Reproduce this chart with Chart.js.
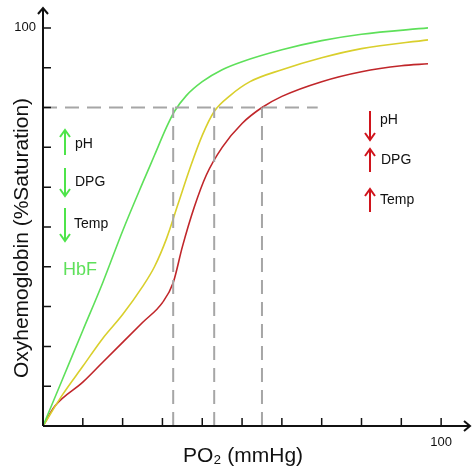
<!DOCTYPE html>
<html><head><meta charset="utf-8">
<script src="https://cdn.jsdelivr.net/npm/chart.js@4"></script>
<style>html,body{margin:0;padding:0;background:#fff}#w{width:474px;height:474px}</style>
</head><body><div id="w"><canvas id="c"></canvas></div>
<script>
const greenX=[0,5,10,15,20,25,28,31,33,36,40,45,50,60,70,80,96.7];
const greenY=[0,12,24,36,49,61,68,75,79,83,86.5,89.5,91.5,94.5,96.8,98.4,100];
const yellowX=[0,5,10,15,20,25,28,31,34,37,40,43,47,52,60,70,80,96.7];
const yellowY=[0,8,15,22,28,35,40,47,56,65,73,79,83,86.5,89.5,92.5,94.8,97];
const redX=[0,3,10,15,20,25,30,32.7,35,38,41,45,50,55,60,70,80,90,96.7];
const redY=[0,5,11,16,21,26,31,36,45,55,63,70,76,80,82.8,86.5,89,90.5,91];
const p50X=[32.7,43,55];
const refY=80, refXEnd=69;
const xTicks=[10,20,30,40,50,60,70,80,90,100];
const yTicks=[10,20,30,40,50,60,70,80,90,100];
const zip=(a,b)=>a.map((v,i)=>({x:v,y:b[i]}));
const dash={borderColor:'#a6a6a6',borderWidth:2,borderDash:[14,8],pointRadius:0,fill:false};
const ds=[
 Object.assign({data:[{x:0,y:refY},{x:refXEnd,y:refY}]},dash),
 ...p50X.map(x=>Object.assign({data:[{x:x,y:0},{x:x,y:refY}]},dash)),
 {data:zip(greenX,greenY),borderColor:'#5ee05a',borderWidth:1.6,pointRadius:0,cubicInterpolationMode:'monotone'},
 {data:zip(yellowX,yellowY),borderColor:'#d9cf2c',borderWidth:1.6,pointRadius:0,cubicInterpolationMode:'monotone'},
 {data:zip(redX,redY),borderColor:'#c0262a',borderWidth:1.6,pointRadius:0,cubicInterpolationMode:'monotone'}
];
function arrow(ctx,x,y1,y2,col){
 ctx.strokeStyle=col;ctx.lineWidth=2;ctx.beginPath();ctx.moveTo(x,y1);ctx.lineTo(x,y2);
 const d=y2>y1?-1:1;ctx.moveTo(x-5,y2+d*7);ctx.lineTo(x,y2);ctx.lineTo(x+5,y2+d*7);ctx.stroke();}
const deco={id:'deco',afterDraw(ch){
 const c=ch.ctx,xs=ch.scales.x,ys=ch.scales.y;const x0=xs.getPixelForValue(0),y0=ys.getPixelForValue(0);
 c.save();c.strokeStyle='#111';c.lineWidth=2;c.beginPath();
 c.moveTo(x0,y0);c.lineTo(470,y0);c.moveTo(x0,y0);c.lineTo(x0,8);c.stroke();
 c.beginPath();c.moveTo(464,y0-5);c.lineTo(470,y0);c.lineTo(464,y0+5);
 c.moveTo(x0-5,14);c.lineTo(x0,8);c.lineTo(x0+5,14);c.stroke();
 c.lineWidth=1.5;c.beginPath();
 xTicks.forEach(v=>{const p=xs.getPixelForValue(v);c.moveTo(p,y0);c.lineTo(p,y0-8);});
 yTicks.forEach(v=>{const p=ys.getPixelForValue(v);c.moveTo(x0,p);c.lineTo(x0+8,p);});c.stroke();
 c.fillStyle='#111';c.font='13px Arial, Liberation Sans';c.textAlign='right';c.textBaseline='middle';
 c.fillText('100',x0-7,ys.getPixelForValue(100));
 c.textAlign='center';c.fillText('100',xs.getPixelForValue(100),y0+16);
 c.font='21px Arial, Liberation Sans';c.fillText('PO\u2082 (mmHg)',243,456);
 c.save();c.translate(22,238);c.rotate(-Math.PI/2);c.fillText('Oxyhemoglobin (%Saturation)',0,0);c.restore();
 const g='#4ee44a',r='#d0141c';
 arrow(c,65,155,130,g);arrow(c,65,168,196,g);arrow(c,65,208,241,g);
 arrow(c,370,111,140,r);arrow(c,370,172,149,r);arrow(c,370,212,189,r);
 c.textAlign='left';c.font='14px Arial, Liberation Sans';c.fillStyle='#111';
 c.fillText('pH',75,144);c.fillText('DPG',75,182);c.fillText('Temp',74,224);
 c.fillText('pH',380,120);c.fillText('DPG',381,160);c.fillText('Temp',380,200);
 c.fillStyle='#5ee05a';c.font='18px Arial, Liberation Sans';c.fillText('HbF',63,270);
 c.restore();}};
new Chart(document.getElementById('c'),{type:'line',data:{datasets:ds},plugins:[deco],
 options:{responsive:true,maintainAspectRatio:false,animation:false,
  layout:{padding:{left:43,right:5,top:10,bottom:48}},
  plugins:{legend:{display:false},tooltip:{enabled:false}},
  scales:{x:{type:'linear',min:0,max:107,display:false},y:{min:0,max:104.5,display:false}}}});
</script></body></html>
